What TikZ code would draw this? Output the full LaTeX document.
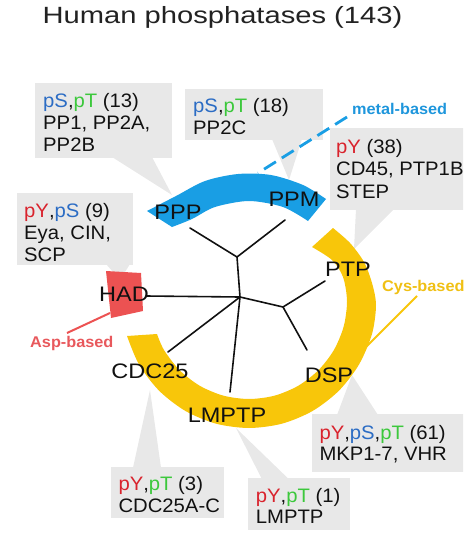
\documentclass[tikz,border=0pt]{standalone}
\usepackage{fontspec}
\setmainfont{Liberation Sans}
\newfontfamily\titlefont{Liberation Sans}[FakeStretch=1.24]
\newfontfamily\ringfont{Liberation Sans}[FakeStretch=1.12]
\newfontfamily\callfont{Liberation Sans}[FakeStretch=1.04]
\newfontfamily\catfont{Liberation Sans}[FakeStretch=1.05]
\definecolor{cpy}{RGB}{217,35,45}
\definecolor{cps}{RGB}{43,108,196}
\definecolor{cpt}{RGB}{60,200,60}
\definecolor{callgray}{RGB}{232,232,232}
\definecolor{ringblue}{RGB}{25,158,228}
\definecolor{ringyellow}{RGB}{248,198,10}
\definecolor{hadred}{RGB}{236,82,82}
\definecolor{asptext}{RGB}{232,88,92}
\definecolor{cystext}{RGB}{240,192,20}
\definecolor{metaltext}{RGB}{30,150,220}
\definecolor{txtblack}{RGB}{17,17,17}
\definecolor{titlegray}{RGB}{34,34,34}
\newcommand{\tpY}{{\color{cpy}pY}}
\newcommand{\tpS}{{\color{cps}pS}}
\newcommand{\tpT}{{\color{cpt}pT}}
\begin{document}
\begin{tikzpicture}[x=1pt,y=-1pt,
  callbox/.style={fill=callgray, draw=none, inner sep=0pt, outer sep=0pt, anchor=north west},
  pointer/.style={fill=callgray, draw=none},
  calltext/.style={inner sep=0pt, anchor=base west, font=\callfont\fontsize{19.5}{22}\selectfont, text=txtblack},
  ringlabel/.style={inner sep=0pt, font=\ringfont\fontsize{21}{24}\selectfont, text=txtblack},
  catlabel/.style={inner sep=0pt, anchor=base west, font=\catfont\bfseries\fontsize{15.5}{18}\selectfont},
  treeline/.style={line width=1.6pt, draw=txtblack, line cap=round}]
\useasboundingbox (0,0) rectangle (474,535);
\begin{scope}
\clip (0,0) rectangle (463,535);
% ---------- callout boxes ----------
\node[callbox, minimum width=137pt, minimum height=75pt] (b1) at (35,83) {};
\node[callbox, minimum width=138pt, minimum height=51pt] (b2) at (185,89) {};
\node[callbox, minimum width=140pt, minimum height=82pt] (b3) at (330,128) {};
\node[callbox, minimum width=116pt, minimum height=72pt] (b4) at (17,193) {};
\node[callbox, minimum width=113.3pt, minimum height=51.3pt] (b5) at (110.7,466.7) {};
\node[callbox, minimum width=101.7pt, minimum height=51.7pt] (b6) at (248.3,478.3) {};
\node[callbox, minimum width=152pt, minimum height=57.7pt] (b7) at (311.7,414) {};
% pointer tips
\coordinate (tip1) at (172,195);
\coordinate (tip2) at (289,180);
\coordinate (tip3) at (354,249);
\coordinate (tip4) at (120,280);
\coordinate (tip5) at (150,390);
\coordinate (tip6) at (236,428);
\coordinate (tip7) at (352,375);
\fill[pointer] ([xshift=77pt,yshift=1pt]b1.south west) -- ([xshift=117pt,yshift=1pt]b1.south west) -- (tip1) -- cycle;
\fill[pointer] ([xshift=87pt,yshift=1pt]b2.south west) -- ([xshift=117pt,yshift=1pt]b2.south west) -- (tip2) -- cycle;
\fill[pointer] ([xshift=26pt,yshift=1pt]b3.south west) -- ([xshift=64pt,yshift=1pt]b3.south west) -- (tip3) -- cycle;
\fill[pointer] ([xshift=89pt,yshift=1pt]b4.south west) -- ([xshift=113pt,yshift=1pt]b4.south west) -- (tip4) -- cycle;
\fill[pointer] ([xshift=22.3pt,yshift=-1pt]b5.north west) -- ([xshift=50.3pt,yshift=-1pt]b5.north west) -- (tip5) -- cycle;
\fill[pointer] ([xshift=13.7pt,yshift=-1pt]b6.north west) -- ([xshift=40.7pt,yshift=-1pt]b6.north west) -- (tip6) -- cycle;
\fill[pointer] ([xshift=25.3pt,yshift=-1pt]b7.north west) -- ([xshift=66.3pt,yshift=-1pt]b7.north west) -- (tip7) -- cycle;
% ---------- category leader lines ----------
\coordinate (m1) at (347,117);
\coordinate (m2) at (258,173);
\coordinate (c1) at (417,296);
\coordinate (c2) at (363,350);
\coordinate (a1) at (110,313);
\coordinate (a2) at (67,333);
\draw[ringblue, line width=2.8pt, dash pattern=on 14pt off 7pt] (m1) -- (m2);
\draw[ringyellow, line width=2pt] (c1) -- (c2);
\draw[hadred, line width=2pt] (a1) -- (a2);
% ---------- rings ----------
\fill[ringblue] plot[smooth] coordinates {(147,211) (176,196) (205,181) (238,174) (271,175) (303,185) (326,199)}
  -- plot[smooth] coordinates {(308,221) (283,207) (249,201) (215,207) (192,219) (172,227)} -- cycle;
\fill[ringyellow] plot[smooth] coordinates {(333,228) (350,243) (364,262) (372,283) (376,305) (372,334) (359,364.5) (338.8,390.8) (312.5,411) (281.9,423.7) (249,428) (216.1,423.7) (185.5,411) (159.2,390.8) (139,364.5) (127,336)}
  -- plot[smooth] coordinates {(157,334) (164,350) (179.7,370.3) (200,385.9) (223.6,395.7) (249,399) (274.4,395.7) (298,385.9) (318.3,370.3) (333.9,350) (343.7,326.4) (347,301) (343,277) (332,260) (312,247)} -- cycle;
\fill[hadred] (106,271) -- (141,273) -- (143,311) -- (111,318) -- cycle;
% ---------- tree ----------
\coordinate (j0) at (240,297);
\coordinate (j1) at (237,257);
\coordinate (j2) at (283,307);
\coordinate (ePPP) at (190,228);
\coordinate (ePPM) at (285,220);
\coordinate (eHAD) at (146,296);
\coordinate (eCDC) at (168,352);
\coordinate (eLMP) at (230,392);
\coordinate (ePTP) at (325,281);
\coordinate (eDSP) at (307,350);
\draw[treeline] (eHAD) -- (j0) -- (j1) -- (ePPP);
\draw[treeline] (j1) -- (ePPM);
\draw[treeline] (j0) -- (eCDC);
\draw[treeline] (j0) -- (eLMP);
\draw[treeline] (j0) -- (j2) -- (ePTP);
\draw[treeline] (j2) -- (eDSP);
% ---------- ring labels ----------
\node[ringlabel] (lPPP) at (178,212) {PPP};
\node[ringlabel] (lPPM) at (294,199) {PPM};
\node[ringlabel] (lHAD) at (124,294) {HAD};
\node[ringlabel] (lPTP) at (348,269) {PTP};
\node[ringlabel] (lCDC) at (150,371) {CDC25};
\node[ringlabel] (lLMP) at (227,415) {LMPTP};
\node[ringlabel] (lDSP) at (329,375) {DSP};
% ---------- category labels ----------
\node[catlabel, text=metaltext] (metal) at (352,114) {metal-based};
\node[catlabel, text=cystext] (cys) at (382,291) {Cys-based};
\node[catlabel, text=asptext] (asp) at (30,347) {Asp-based};
% ---------- callout texts ----------
\node[calltext] (t1a) at (43,107) {\tpS,\tpT{} (13)};
\node[calltext] (t1b) at (43,129) {PP1, PP2A,};
\node[calltext] (t1c) at (43,151) {PP2B};
\node[calltext] (t2a) at (193,112) {\tpS,\tpT{} (18)};
\node[calltext] (t2b) at (193,134) {PP2C};
\node[calltext] (t3a) at (336,153) {\tpY{} (38)};
\node[calltext] (t3b) at (336,175) {CD45, PTP1B};
\node[calltext] (t3c) at (336,198) {STEP};
\node[calltext] (t4a) at (24,217) {\tpY,\tpS{} (9)};
\node[calltext] (t4b) at (24,239) {Eya, CIN,};
\node[calltext] (t4c) at (24,261) {SCP};
\node[calltext] (t5a) at (118.3,490) {\tpY,\tpT{} (3)};
\node[calltext] (t5b) at (118.3,512) {CDC25A-C};
\node[calltext] (t6a) at (255.7,502) {\tpY,\tpT{} (1)};
\node[calltext] (t6b) at (255.7,523) {LMPTP};
\node[calltext] (t7a) at (319.3,439) {\tpY,\tpS,\tpT{} (61)};
\node[calltext] (t7b) at (319.3,460) {MKP1-7, VHR};
% ---------- title ----------
\node[inner sep=0pt, anchor=base, font=\titlefont\fontsize{23.5}{28}\selectfont, text=titlegray] (title) at (222.5,23.3) {Human phosphatases (143)};
\end{scope}
\end{tikzpicture}
\end{document}
